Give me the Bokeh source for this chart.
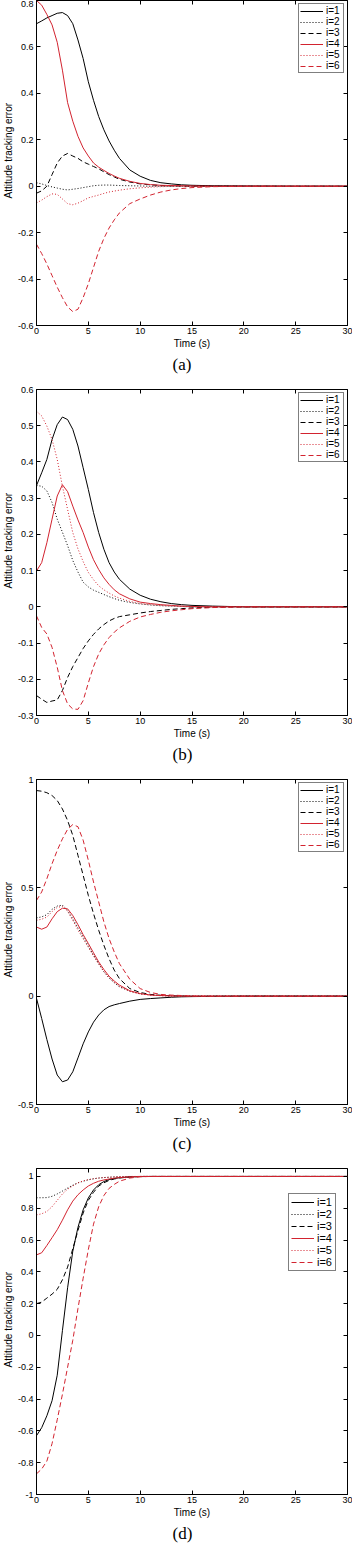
from bokeh.plotting import figure
from bokeh.models import (LinearAxis, FixedTicker, CustomJSTickFormatter, Legend,
                          LegendItem, Title, Range1d, ColumnDataSource)
from bokeh.layouts import column
from bokeh.embed import file_html
from bokeh.resources import INLINE

# ---------------- data ----------------
T = [0, 0.5, 1, 1.5, 2, 2.5, 3, 3.5, 4, 4.5, 5, 5.5, 6, 6.5, 7, 7.5, 8, 9, 10,
     11, 12, 13, 14, 15, 17, 20, 25, 30]
labels = ["i=1", "i=2", "i=3", "i=4", "i=5", "i=6"]
x_ticks = [0, 5, 10, 15, 20, 25, 30]

# panel (a)
a1 = [0.70, 0.712, 0.725, 0.735, 0.745, 0.748, 0.735, 0.70, 0.63, 0.55, 0.45, 0.37, 0.30,
      0.243, 0.195, 0.155, 0.12, 0.07, 0.043, 0.025, 0.015, 0.01, 0.006, 0.004, 0.002, 0.001, 0, 0]
a2 = [0.015, 0.01, 0.003, -0.003, -0.008, -0.013, -0.016, -0.013, -0.01, -0.006, -0.002, 0.002,
      0.004, 0.005, 0.005, 0.004, 0.003, 0.002, 0.001, 0, 0, 0, 0, 0, 0, 0, 0, 0]
a3 = [-0.03, -0.02, 0.0, 0.05, 0.10, 0.13, 0.141, 0.13, 0.12, 0.105, 0.095, 0.085, 0.075,
      0.062, 0.05, 0.04, 0.03, 0.018, 0.01, 0.006, 0.003, 0.002, 0.001, 0, 0, 0, 0, 0]
a4 = [0.80, 0.78, 0.74, 0.695, 0.62, 0.50, 0.36, 0.28, 0.215, 0.165, 0.13, 0.10, 0.082,
      0.068, 0.055, 0.044, 0.034, 0.021, 0.012, 0.007, 0.004, 0.003, 0.002, 0.001, 0, 0, 0, 0]
a5 = [-0.072, -0.06, -0.045, -0.033, -0.035, -0.055, -0.075, -0.08, -0.073, -0.062, -0.05,
      -0.044, -0.038, -0.031, -0.025, -0.021, -0.017, -0.011, -0.007, -0.004, -0.002, -0.001,
      0, 0, 0, 0, 0, 0]
a6 = [-0.25, -0.29, -0.335, -0.385, -0.435, -0.48, -0.52, -0.54, -0.53, -0.48, -0.42, -0.35,
      -0.28, -0.225, -0.18, -0.145, -0.115, -0.075, -0.055, -0.038, -0.025, -0.016, -0.01,
      -0.006, -0.002, 0, 0, 0]

# panel (b)
b1 = [0.335, 0.37, 0.407, 0.462, 0.503, 0.524, 0.517, 0.49, 0.444, 0.384, 0.324, 0.26, 0.205,
      0.159, 0.122, 0.096, 0.076, 0.049, 0.032, 0.021, 0.014, 0.009, 0.006, 0.004, 0.002, 0, 0, 0]
b2 = [0.335, 0.333, 0.32, 0.288, 0.242, 0.206, 0.169, 0.128, 0.096, 0.068, 0.055, 0.046, 0.04,
      0.034, 0.028, 0.023, 0.018, 0.012, 0.008, 0.005, 0.003, 0.002, 0.001, 0, 0, 0, 0, 0]
b3 = [-0.245, -0.255, -0.264, -0.26, -0.257, -0.231, -0.195, -0.165, -0.14, -0.115, -0.094,
      -0.076, -0.061, -0.049, -0.039, -0.032, -0.027, -0.022, -0.017, -0.013, -0.01, -0.007,
      -0.005, -0.003, -0.001, 0, 0, 0]
b4 = [0.099, 0.122, 0.177, 0.242, 0.306, 0.337, 0.318, 0.278, 0.24, 0.205, 0.165, 0.13, 0.103,
      0.08, 0.062, 0.047, 0.036, 0.022, 0.013, 0.009, 0.006, 0.004, 0.002, 0.001, 0, 0, 0, 0]
b5 = [0.54, 0.527, 0.499, 0.462, 0.407, 0.333, 0.269, 0.205, 0.16, 0.125, 0.095, 0.075, 0.058,
      0.047, 0.038, 0.03, 0.024, 0.015, 0.009, 0.006, 0.004, 0.002, 0.001, 0, 0, 0, 0, 0]
b6 = [-0.025, -0.057, -0.075, -0.112, -0.167, -0.231, -0.268, -0.282, -0.283, -0.259, -0.21,
      -0.165, -0.13, -0.105, -0.085, -0.07, -0.058, -0.04, -0.028, -0.021, -0.015, -0.011,
      -0.008, -0.005, -0.002, 0, 0, 0]

# panel (c)
c1 = [-0.01, -0.103, -0.2, -0.29, -0.364, -0.395, -0.387, -0.349, -0.285, -0.22, -0.165,
      -0.12, -0.087, -0.063, -0.048, -0.04, -0.034, -0.023, -0.015, -0.011, -0.008, -0.005,
      -0.003, -0.002, -0.001, 0, 0, 0]
c2 = [0.361, 0.366, 0.376, 0.401, 0.416, 0.42, 0.396, 0.357, 0.315, 0.273, 0.232, 0.189, 0.15,
      0.112, 0.084, 0.062, 0.043, 0.023, 0.011, 0.006, 0.003, 0.001, 0, 0, 0, 0, 0, 0]
c3 = [0.949, 0.946, 0.939, 0.926, 0.903, 0.864, 0.811, 0.742, 0.65, 0.558, 0.465, 0.381, 0.304,
      0.235, 0.173, 0.12, 0.081, 0.035, 0.017, 0.008, 0.004, 0.002, 0.001, 0, 0, 0, 0, 0]
c4 = [0.319, 0.309, 0.319, 0.357, 0.39, 0.406, 0.403, 0.372, 0.33, 0.284, 0.243, 0.2, 0.158,
      0.123, 0.092, 0.07, 0.051, 0.025, 0.012, 0.005, 0.003, 0.001, 0, 0, 0, 0, 0, 0]
c5 = [0.35, 0.355, 0.365, 0.39, 0.41, 0.414, 0.392, 0.35, 0.305, 0.265, 0.225, 0.185, 0.148,
      0.114, 0.085, 0.064, 0.045, 0.022, 0.01, 0.005, 0.002, 0.001, 0, 0, 0, 0, 0, 0]
c6 = [0.442, 0.481, 0.542, 0.611, 0.673, 0.726, 0.77, 0.792, 0.782, 0.72, 0.627, 0.527, 0.435,
      0.343, 0.266, 0.204, 0.15, 0.078, 0.035, 0.017, 0.008, 0.005, 0.003, 0.001, 0, 0, 0, 0]

# panel (d)
d1 = [-0.63, -0.58, -0.505, -0.41, -0.25, 0.03, 0.30, 0.53, 0.68, 0.79, 0.865, 0.915, 0.948,
      0.968, 0.98, 0.987, 0.992, 0.997, 0.999, 1, 1, 1, 1, 1, 1, 1, 1, 1]
d2 = [0.866, 0.866, 0.867, 0.875, 0.89, 0.908, 0.927, 0.945, 0.96, 0.97, 0.979, 0.985, 0.99,
      0.993, 0.995, 0.997, 0.998, 0.999, 1, 1, 1, 1, 1, 1, 1, 1, 1, 1]
d3 = [0.2, 0.21, 0.235, 0.26, 0.29, 0.35, 0.43, 0.545, 0.66, 0.77, 0.85, 0.9, 0.94, 0.96,
      0.975, 0.984, 0.99, 0.997, 1, 1, 1, 1, 1, 1, 1, 1, 1, 1]
d4 = [0.507, 0.52, 0.566, 0.615, 0.665, 0.725, 0.79, 0.845, 0.885, 0.915, 0.94, 0.957, 0.97,
      0.978, 0.984, 0.989, 0.993, 0.997, 1, 1, 1, 1, 1, 1, 1, 1, 1, 1]
d5 = [0.758, 0.765, 0.78, 0.81, 0.85, 0.89, 0.92, 0.94, 0.96, 0.972, 0.98, 0.986, 0.99, 0.993,
      0.995, 0.997, 0.999, 1, 1, 1, 1, 1, 1, 1, 1, 1, 1, 1]
d6 = [-0.87, -0.84, -0.79, -0.68, -0.53, -0.37, -0.2, -0.03, 0.17, 0.36, 0.54, 0.70, 0.81,
      0.88, 0.925, 0.95, 0.97, 0.99, 0.998, 1, 1, 1, 1, 1, 1, 1, 1, 1]

yticks_a = [-0.6, -0.4, -0.2, 0, 0.2, 0.4, 0.6, 0.8]
yticks_b = [-0.3, -0.2, -0.1, 0, 0.1, 0.2, 0.3, 0.4, 0.5, 0.6]
yticks_c = [-0.5, 0, 0.5, 1]
yticks_d = [-1, -0.8, -0.6, -0.4, -0.2, 0, 0.2, 0.4, 0.6, 0.8, 1]

# ---------------- styling ----------------
BLACK = "#000000"
RED = "#d2232f"
STYLES = [(BLACK, "solid"), (BLACK, "1 2"), (BLACK, "5 3"),
          (RED, "solid"), (RED, "1 2"), (RED, "5 3")]
SANS = "Liberation Sans"
SERIF = "Liberation Serif"
FMT = CustomJSTickFormatter(code="return Number(tick.toFixed(3)).toString();")


def mirror_axis(ticks):
    # tick marks only (no labels drawn, no space taken)
    return LinearAxis(ticker=FixedTicker(ticks=ticks), formatter=FMT,
                      major_label_text_font_size="0px", major_label_text_color=None,
                      major_tick_in=4, major_tick_out=0, minor_tick_line_color=None,
                      axis_line_color=None, major_label_standoff=0)


def panel(series, yr, yticks, caption, height, top, bottom, frame_h, legend_cfg):
    p = figure(width=352, height=height, x_range=Range1d(0, 30), y_range=Range1d(*yr),
               output_backend="svg", toolbar_location=None,
               min_border_left=36, min_border_right=5, min_border_top=top,
               min_border_bottom=bottom)
    p.frame_height = frame_h
    p.frame_width = 311
    p.xgrid.grid_line_color = None
    p.ygrid.grid_line_color = None
    p.outline_line_color = BLACK
    p.outline_line_width = 1
    p.background_fill_color = "white"
    p.border_fill_color = "white"

    for ax, tk in ((p.xaxis[0], x_ticks), (p.yaxis[0], yticks)):
        ax.ticker = FixedTicker(ticks=tk)
        ax.formatter = FMT
        ax.major_tick_in = 4
        ax.major_tick_out = 0
        ax.minor_tick_line_color = None
        ax.axis_line_color = BLACK
        ax.major_tick_line_color = BLACK
        ax.major_label_text_font = SANS
        ax.major_label_text_font_size = "9px"
        ax.major_label_text_color = BLACK
    p.xaxis.major_label_standoff = 2
    p.yaxis.major_label_standoff = 3
    p.xaxis.axis_label = "Time (s)"
    p.xaxis.axis_label_text_font = SANS
    p.xaxis.axis_label_text_font_size = "10px"
    p.xaxis.axis_label_text_font_style = "normal"
    p.xaxis.axis_label_text_color = BLACK
    p.xaxis.axis_label_standoff = 1

    # mirrored ticks (box)
    p.add_layout(mirror_axis(x_ticks), "above")
    p.add_layout(mirror_axis(yticks), "right")

    # y label, shifted like the original
    p.add_layout(Title(text="Attitude tracking error", align="left", offset=127,
                       text_font=SANS, text_font_size="10px", text_font_style="normal",
                       text_color=BLACK, standoff=1), "left")
    # caption
    p.add_layout(Title(text=caption, align="left", offset=136, text_font=SERIF,
                       text_font_size="17px", text_font_style="normal", text_color=BLACK,
                       standoff=2), "below")

    items = []
    for lab, ys, (col, dash) in zip(labels, series, STYLES):
        src = ColumnDataSource(dict(t=T, y=ys))
        r = p.line("t", "y", source=src, line_color=col, line_dash=dash, line_width=1)
        items.append(LegendItem(label=lab, renderers=[r]))

    lg = Legend(items=items, label_text_font=SANS, label_text_color=BLACK,
                border_line_color=BLACK, border_line_width=1, background_fill_alpha=1,
                spacing=0, label_standoff=3, glyph_width=23)
    lg.location = legend_cfg["loc"]
    lg.margin = legend_cfg.get("margin", 0)
    lg.padding = legend_cfg["pad"]
    lg.label_height = legend_cfg["row"]
    lg.glyph_height = legend_cfg["row"]
    lg.label_width = legend_cfg["lw"]
    lg.label_text_font_size = legend_cfg["fs"]
    p.add_layout(lg)
    return p


small_legend = dict(loc="top_right", margin=3, pad=1, row=10, lw=16, fs="10px")
pa = panel([a1, a2, a3, a4, a5, a6], (-0.6, 0.8), yticks_a, "(a)", 380, 0, 55, 325, small_legend)
pb = panel([b1, b2, b3, b4, b5, b6], (-0.3, 0.6), yticks_b, "(b)", 390, 9, 55, 326, small_legend)
pc = panel([c1, c2, c3, c4, c5, c6], (-0.5, 1.0), yticks_c, "(c)", 390, 9, 56, 325, small_legend)
pd_ = panel([d1, d2, d3, d4, d5, d6], (-1.0, 1.05), yticks_d, "(d)", 386, 8, 52, 326,
            dict(loc=(252, 223), pad=2, row=12, lw=16, fs="11px"))

layout = column(pa, pb, pc, pd_, spacing=0)
open("out.html", "w").write(file_html(layout, INLINE))
